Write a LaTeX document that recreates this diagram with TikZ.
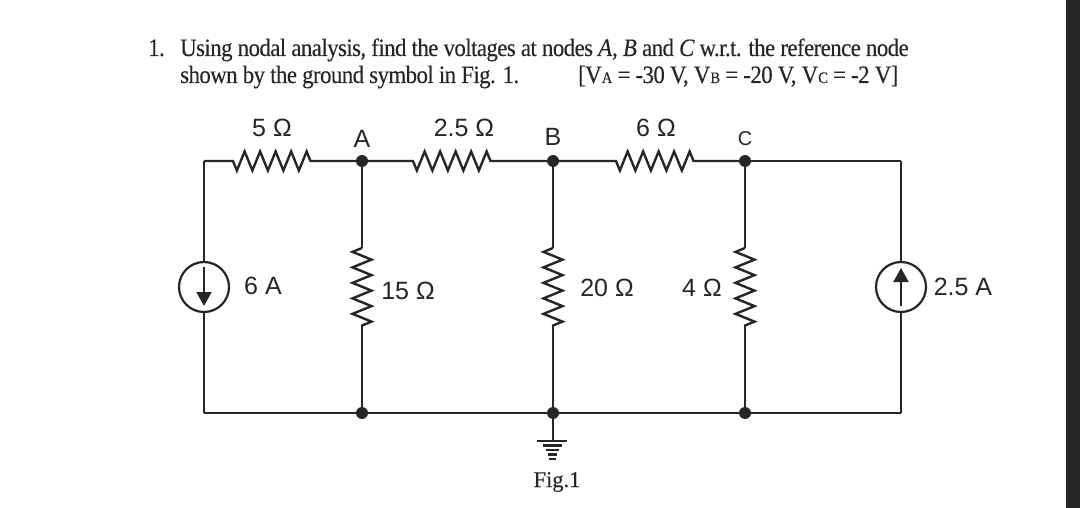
\documentclass[tikz,border=0pt]{standalone}
\usepackage{fontspec}
\setmainfont{Liberation Sans}
\newfontfamily\bodyf[FakeStretch=0.915,LetterSpace=-2.3,FakeBold=0.15]{Liberation Serif}
\newfontfamily\bodyi[FakeStretch=0.915,LetterSpace=-2.3,FakeBold=0.15]{Liberation Serif Italic}
\newfontfamily\figf[FakeBold=0.15]{Liberation Serif}
\usetikzlibrary{decorations.pathmorphing,arrows.meta}
\definecolor{ink}{HTML}{262626}
\tikzset{
  wire/.style={draw=ink,line width=2.4pt,line join=miter},
  hres/.style={wire,decorate,decoration={zigzag,mirror,segment length=15.5,amplitude=9.5,pre length=29,post length=49}},
  vres/.style={wire,decorate,decoration={zigzag,mirror,segment length=15.5,amplitude=9.5}},
  junction/.style={circle,fill=ink,minimum size=12pt,inner sep=0pt},
  isrc/.style={circle,draw=ink,line width=2.2pt,fill=white,minimum size=50pt,inner sep=0pt},
  lab/.style={text=ink,font=\fontsize{25}{25}\selectfont,inner sep=0pt},
  smalllab/.style={text=ink,font=\fontsize{20}{20}\selectfont,inner sep=0pt},
  txt/.style={text=ink,anchor=base west,inner sep=0pt,font=\fontsize{25}{26}\bodyf},
  gbar/.style={draw=ink,line width=2.8pt},
  srcarrow/.style={draw=ink,line width=2pt,-{Triangle[length=14pt,width=15pt]}}
}
\begin{document}
\begin{tikzpicture}[x=1pt,y=-1pt]
\useasboundingbox (0,0) rectangle (1080,508);
\fill[white] (0,0) rectangle (1080,508);
\fill[ink] (1066,0) rectangle (1080,508);
% text
\node[txt] (l1) at (148,56) {1.};
\node[txt] (l2) at (180,56) {Using nodal analysis, find the voltages at nodes {\bodyi A}, {\bodyi B} and {\bodyi C} w.r.t. the reference node};
\node[txt] (l3) at (180,83) {shown by the ground symbol in Fig. 1.};
\node[txt] (l4) at (578,83) {[V{\fontsize{16}{16}\bodyf A} = -30 V, V{\fontsize{16}{16}\bodyf B} = -20 V, V{\fontsize{16}{16}\bodyf C} = -2 V]};
% corners and nodes
\coordinate (TL) at (204,161);
\coordinate (TR) at (901,161);
\coordinate (BL) at (204,413);
\coordinate (BR) at (901,413);
\node[junction] (A) at (362,161) {};
\node[junction] (B) at (553,161) {};
\node[junction] (C) at (745,161) {};
\node[junction] (A0) at (362,413) {};
\node[junction] (B0) at (553,413) {};
\node[junction] (C0) at (745,413) {};
\node[isrc] (S1) at (204,287) {};
\node[isrc] (S2) at (901,287) {};
% horizontal resistors and wires
\path[hres] (TL) -- (A.center);
\path[hres,decoration={pre length=51,post length=61}] (A.center) -- (B.center);
\path[hres,decoration={pre length=63,post length=49}] (B.center) -- (C.center);
\path[wire] (C.center) -- (TR);
\path[wire] (TL) -- (S1);
\path[wire] (S1) -- (BL);
\path[wire] (TR) -- (S2);
\path[wire] (S2) -- (BR);
\path[wire] (BL) -- (BR);
% vertical resistors
\foreach \n/\m/\x in {A/A0/362,B/B0/553,C/C0/745}{
  \coordinate (\n t) at (\x,248);
  \coordinate (\n b) at (\x,326);
  \path[wire] (\n) -- (\n t);
  \path[vres] (\n t) -- (\n b);
  \path[wire] (\n b) -- (\m);
}
% source arrows
\coordinate (S1a) at (204,267);
\coordinate (S1b) at (204,306);
\coordinate (S2a) at (901,306);
\coordinate (S2b) at (901,268);
\path[srcarrow] (S1a) -- (S1b);
\path[srcarrow] (S2a) -- (S2b);
% ground
\coordinate (G) at (553,441);
\path[wire] (B0) -- (G);
\coordinate (G1l) at (537,441); \coordinate (G1r) at (567,441);
\coordinate (G2l) at (543,445.5); \coordinate (G2r) at (562,445.5);
\coordinate (G3l) at (546,450); \coordinate (G3r) at (559,450);
\coordinate (G4l) at (547.5,454.5); \coordinate (G4r) at (557,454.5);
\coordinate (G5l) at (549,459); \coordinate (G5r) at (556,459);
\path[gbar] (G1l) -- (G1r);
\path[gbar] (G2l) -- (G2r);
\path[gbar] (G3l) -- (G3r);
\path[gbar] (G4l) -- (G4r);
\path[gbar] (G5l) -- (G5r);
% labels
\node[lab] (r1) at (272,128) {5 Ω};
\node[lab] (la) at (362,139) {A};
\node[lab] (r2) at (464,128) {2.5 Ω};
\node[lab] (lb) at (553,137) {B};
\node[lab] (r3) at (656,128) {6 Ω};
\node[smalllab] (lc) at (745,139) {C};
\node[lab] (i1) at (263,286) {6 A};
\node[lab] (r4) at (408,291) {15 Ω};
\node[lab] (r5) at (607,288) {20 Ω};
\node[lab] (r6) at (702,288) {4 Ω};
\node[lab] (i2) at (963,287) {2.5 A};
\node[txt,anchor=center,font=\fontsize{22.5}{24}\figf] (fig) at (557,482) {Fig.1};
\end{tikzpicture}
\end{document}
